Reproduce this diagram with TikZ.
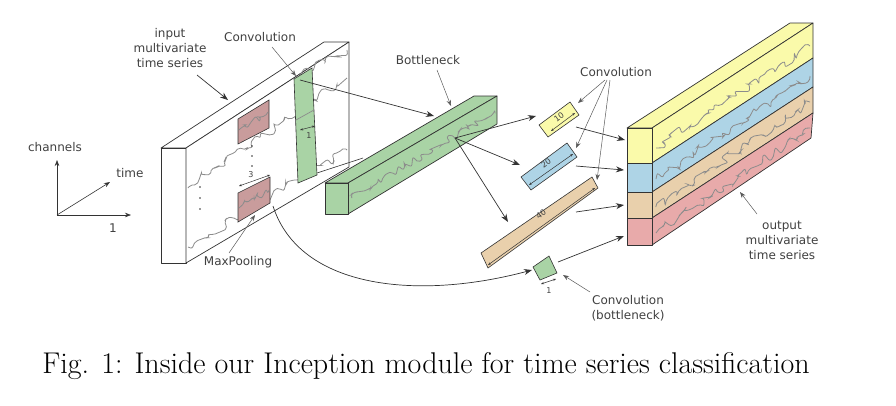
\documentclass[tikz,border=0pt]{standalone}
\usepackage{fontspec}
\newfontfamily\lblfont{DejaVu Sans}
\usetikzlibrary{arrows.meta,decorations.pathmorphing}
\definecolor{cgreen}{HTML}{A9D3A5}
\definecolor{cred}{HTML}{C99C9C}
\definecolor{cyel}{HTML}{FAFAAA}
\definecolor{cblue}{HTML}{AED4E6}
\definecolor{ctan}{HTML}{E9D0AC}
\definecolor{cpink}{HTML}{E8AAAA}
\tikzset{
 box/.style={draw=black!80,line width=0.7pt,line join=round},
 arr/.style={-{Stealth[length=8pt,width=6pt]},black!80,line width=0.7pt},
 thinarr/.style={-{Stealth[length=6pt,width=4.5pt]},black!65,line width=0.5pt},
 dim/.style={{Stealth[length=3pt]}-{Stealth[length=3pt]},black!80,line width=0.5pt},
 lbl/.style={font=\lblfont\fontsize{12}{15}\selectfont,text=black!75,align=center,inner sep=1pt},
 small/.style={lbl,font=\lblfont\fontsize{8}{9}\selectfont,inner sep=0pt},
 wave/.style={draw=black!45,line width=0.8pt,rounded corners=2pt,decorate,decoration={random steps,segment length=4pt,amplitude=5pt}},
}
\begin{document}
\begin{tikzpicture}[x=1pt,y=-1pt]
\pgfmathsetseed{7}
\useasboundingbox (0,0) rectangle (896,405);
% axes
\coordinate (o) at (57,215);
\draw[-{Stealth[length=6pt]},black!80,line width=0.6pt] (o) -- (57,160);
\draw[-{Stealth[length=6pt]},black!80,line width=0.6pt] (o) -- (131,215);
\draw[-{Stealth[length=6pt]},black!80,line width=0.6pt] (o) -- (110,182);
\node[lbl] (ch) at (55,147) {channels};
\node[lbl] (tm) at (130,173) {time};
\node[lbl] (one) at (113,228) {1};
% input slab
\draw[box,fill=white] (161,148) -- (186,148) -- (349,42) -- (324,42) -- cycle;
\draw[box,fill=white] (161,148) rectangle (186,263);
\draw[box,fill=white] (186,148) -- (349,42) -- (349,167) -- (186,263) -- cycle;
\draw[wave] (188,188) -- (347,78);
\draw[wave] (188,247) -- (347,150);
\draw[wave] (300,75) -- (347,50);
\fill[cred,draw=black!80,line width=0.6pt] (238,119) -- (269,100) -- (269,128) -- (238,144) -- cycle;
\fill[cred,draw=black!80,line width=0.6pt] (238,193) -- (270,177) -- (270,203) -- (238,222) -- cycle;
\draw[wave,decoration={random steps,segment length=3pt,amplitude=4pt}] (239,130) -- (268,112);
\draw[wave,decoration={random steps,segment length=3pt,amplitude=4pt}] (239,208) -- (269,190);
\fill[cgreen,draw=black!80,line width=0.6pt] (294,79) -- (312,68) -- (317,175) -- (298,183) -- cycle;
\draw[black!45,line width=0.7pt] (296,120) -- (314,110);
\foreach \y in {146,156,166} \fill[black!80] (252,\y) circle (0.9);
\foreach \y in {187,198,209} \fill[black!80] (200,\y) circle (0.9);
\draw[dim] (300,130) -- (315,126);
\node[small] (d1) at (309,136) {1};
\draw[dim] (239,186) -- (270,175);
\node[small] (d3) at (251,175) {3};
\node[lbl] (inp) at (170,48) {input\\multivariate\\time series};
\draw[arr] (197,75) -- (228,100);
\node[lbl] (cv1) at (260,37) {Convolution};
\draw[thinarr] (272,47) -- (296,76);
\node[lbl] (mp) at (238,262) {MaxPooling};
\draw[thinarr] (229,253) -- (255,215);
% bottleneck
\draw[box,fill=cgreen] (325,183) -- (348,183) -- (497,96) -- (474,96) -- cycle;
\draw[box,fill=cgreen] (348,183) -- (497,96) -- (497,124) -- (348,214) -- cycle;
\draw[box,fill=cgreen] (325,183) rectangle (348,214);
\draw[wave,decoration={random steps,segment length=3.5pt,amplitude=4pt}] (352,198) -- (495,112);
\node[lbl] (bn) at (428,60) {Bottleneck};
\draw[thinarr] (437,70) -- (451,106);
\draw[arr] (300,80) -- (434,116);
\draw[black!80,line width=0.6pt] (317,173) -- (363,158);
% conv boxes
\fill[cyel,draw=black!80,line width=0.6pt] (539,125) -- (570,102) -- (579,115) -- (548,137) -- cycle;
\draw[dim] (551,131) -- (575,113);
\node[small,rotate=36] (k10) at (559,117) {10};
\fill[cblue,draw=black!80,line width=0.6pt] (521,177) -- (567,143) -- (577,157) -- (531,190) -- cycle;
\draw[dim] (529,185) -- (573,154);
\node[small,rotate=36] (k20) at (546,163) {20};
\fill[ctan,draw=black!80,line width=0.6pt] (481,253) -- (592,177) -- (598,188) -- (488,268) -- cycle;
\draw[dim] (488,265) -- (595,188);
\node[small,rotate=35] (k40) at (541,214) {40};
\fill[cgreen,draw=black!80,line width=0.6pt] (533,267) -- (549,256) -- (557,273) -- (540,280) -- cycle;
\draw[dim] (541,284) -- (556,279);
\node[small] (k1) at (549,291) {1};
\draw[arr] (455,138) -- (536,116);
\draw[arr] (455,138) -- (520,165);
\draw[arr] (455,138) -- (508,222);
\draw[arr] (273,206) .. controls (300,290) and (420,300) .. (532,270);
\node[lbl] (cv2) at (616,72) {Convolution};
\draw[thinarr] (605,80) -- (578,103);
\draw[thinarr] (607,80) -- (576,148);
\draw[thinarr] (610,80) -- (597,180);
\node[lbl] (cvb) at (628,308) {Convolution\\(bottleneck)};
\draw[thinarr] (590,292) -- (563,275);
% output
\draw[box,fill=cyel] (627,128) -- (652,128) -- (813,23) -- (790,23) -- cycle;
\draw[box,fill=cyel] (652,128) -- (813,23) -- (813,58) -- (652,163) -- cycle;
\draw[box,fill=cblue] (652,163) -- (813,58) -- (813,87) -- (652,192) -- cycle;
\draw[box,fill=ctan] (652,192) -- (813,87) -- (813,113) -- (652,218) -- cycle;
\draw[box,fill=cpink] (652,218) -- (813,113) -- (811,138) -- (652,245) -- cycle;
\draw[box,fill=cyel] (627,128) rectangle (652,163);
\draw[box,fill=cblue] (627,163) rectangle (652,192);
\draw[box,fill=ctan] (627,192) rectangle (652,218);
\draw[box,fill=cpink] (627,218) rectangle (652,245);
\draw[wave] (656,148) -- (810,46);
\draw[wave] (656,179) -- (810,76);
\draw[wave] (656,207) -- (810,102);
\draw[wave] (656,233) -- (810,128);
\draw[arr] (576,127) -- (625,140);
\draw[arr] (576,166) -- (624,170);
\draw[arr] (576,212) -- (624,205);
\draw[arr] (558,262) -- (624,236);
\node[lbl] (out) at (782,240) {output\\multivariate\\time series};
\draw[thinarr] (757,214) -- (740,192);
% caption
\node[font=\fontsize{30}{35}\selectfont,inner sep=0] (cap) at (426,366) {Fig. 1: Inside our Inception module for time series classification};
\end{tikzpicture}
\end{document}
